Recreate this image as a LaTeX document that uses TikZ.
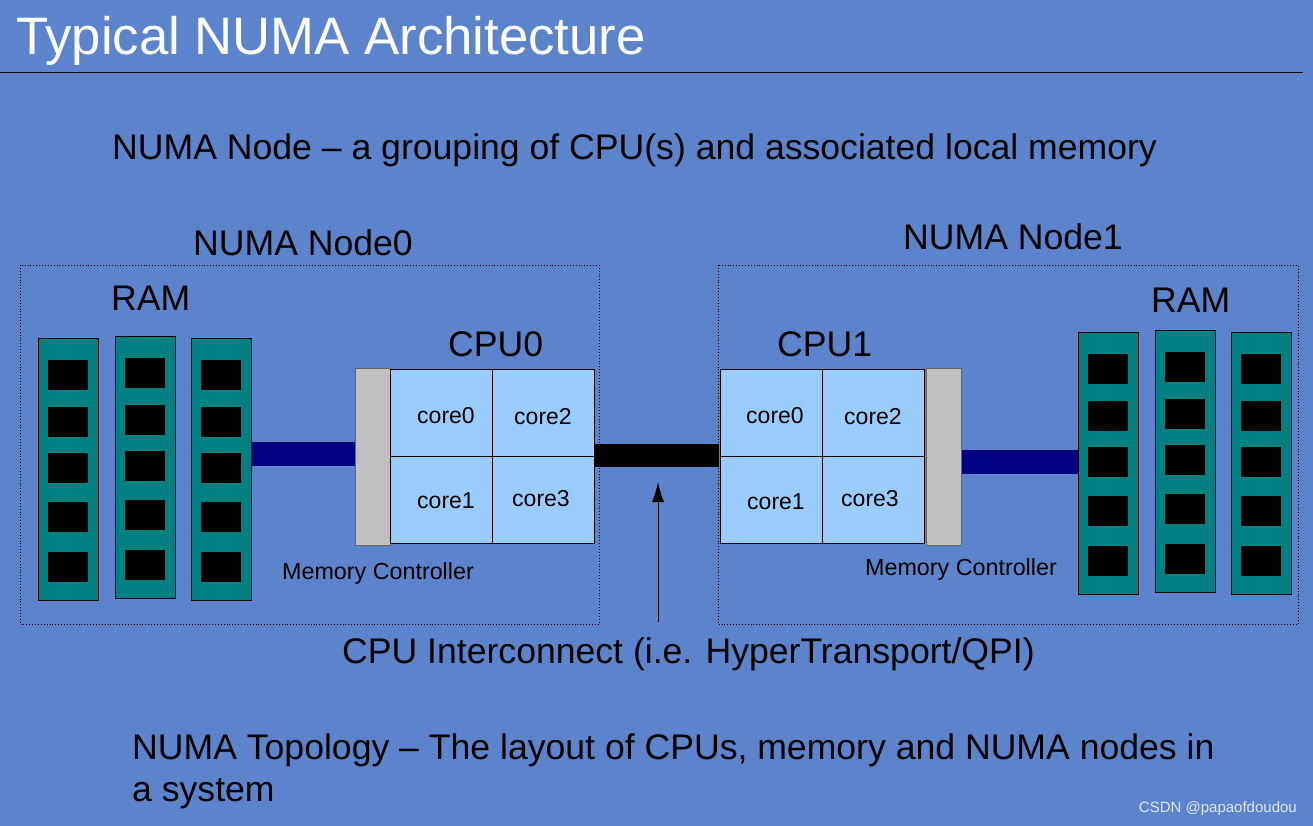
\documentclass[tikz,border=0pt]{standalone}
\usepackage{fontspec}
\setmainfont{Liberation Sans}
\usetikzlibrary{arrows.meta}
\begin{document}
\begin{tikzpicture}[x=1pt,y=-1pt,
  stick/.style={fill=stickc,draw=black,line width=0.8},
  chip/.style={fill=black},
  core/.style={fill=corec,draw=black,line width=0.8,minimum width=102,minimum height=87,inner sep=0,font=\fontsize{23}{25}\selectfont},
  ctext/.style={inner sep=0,font=\fontsize{23}{25}\selectfont},
  box/.style={draw=black,dotted,line width=0.9},
  lbl/.style={font=\fontsize{35.6}{40}\selectfont,anchor=base west,inner sep=0},
  mclbl/.style={anchor=base west,inner sep=0,font=\fontsize{23.3}{25}\selectfont}]
\definecolor{bg}{RGB}{92,132,204}
\definecolor{stickc}{RGB}{0,128,128}
\definecolor{corec}{RGB}{153,204,255}
\definecolor{mc}{RGB}{192,192,192}
\definecolor{navy}{RGB}{0,0,128}
\fill[bg] (0,0) rectangle (1313,826);
\useasboundingbox (0,0) rectangle (1313,826);
\node[anchor=base west,inner sep=0,text=white,font=\fontsize{52.7}{56}\selectfont] (title) at (16,55) {Typical NUMA Architecture};
\draw[black,line width=0.8] (0,72) -- (1303,72);
\node[lbl] (t1) at (112,160) {NUMA Node – a grouping of CPU(s) and associated local memory};
\node[lbl] (n0l) at (193,255) {NUMA Node0};
\node[lbl] (n1l) at (903,250) {NUMA Node1};
\draw[box] (20,265) rectangle (599,624);
\draw[box] (718,265) rectangle (1298,624);
\node[lbl] (ram0) at (111,310) {RAM};
\node[lbl] (ram1) at (1151,312) {RAM};
\node[lbl] (cpu0) at (448,356) {CPU0};
\node[lbl] (cpu1) at (777,356) {CPU1};
\foreach \x/\y in {38/338,115/336,191/338}{
  \draw[stick] (\x,\y) rectangle ++(60,262);
  \foreach \c in {22,69,115,164,214}{\fill[chip] (\x+10,\y+\c) rectangle ++(40,30);}
}
\foreach \x/\y in {1078/332,1155/330,1231/332}{
  \draw[stick] (\x,\y) rectangle ++(60,262);
  \foreach \c in {22,69,115,164,214}{\fill[chip] (\x+10,\y+\c) rectangle ++(40,30);}
}
% CPU0
\fill[navy] (251,442) rectangle (355,466);
\draw[fill=mc,draw=black!60] (355,368) rectangle (390,545);
\node[core,anchor=north west] (c00) at (390,369) {};
\node[core,anchor=north west] (c02) at (492,369) {};
\node[core,anchor=north west] (c01) at (390,456) {};
\node[core,anchor=north west] (c03) at (492,456) {};
\node[ctext] at (446,416) {core0};
\node[ctext] at (543,417) {core2};
\node[ctext] at (446,501) {core1};
\node[ctext] at (541,499) {core3};
\node[mclbl] (mc0) at (282,579) {Memory Controller};
% CPU1
\fill[navy] (961,450) rectangle (1078,474);
\draw[fill=mc,draw=black!60] (926,368) rectangle (961,545);
\node[core,anchor=north west] (c10) at (720,369) {};
\node[core,anchor=north west] (c12) at (822,369) {};
\node[core,anchor=north west] (c11) at (720,456) {};
\node[core,anchor=north west] (c13) at (822,456) {};
\node[ctext] at (775,416) {core0};
\node[ctext] at (873,417) {core2};
\node[ctext] at (776,502) {core1};
\node[ctext] at (870,499) {core3};
\node[mclbl] (mc1) at (865,575) {Memory Controller};
% interconnect
\fill[black] (595,444) rectangle (719,467);
\coordinate (ic) at (658,482);
\coordinate (ib) at (658,622);
\draw[-{Latex[length=20,width=12]},line width=1] (ib) -- (ic);
\node[lbl] (t2) at (342,663) {CPU Interconnect (i.e. HyperTransport/QPI)};
\node[lbl,align=left,anchor=north west,font=\fontsize{35.6}{42}\selectfont] (t3) at (132,733) {NUMA Topology – The layout of CPUs, memory and NUMA nodes in\\a system};
\node[anchor=base east,inner sep=0,text=white!80!bg,font=\fontsize{15}{17}\selectfont] (wm) at (1297,812) {CSDN @papaofdoudou};
\end{tikzpicture}
\end{document}
